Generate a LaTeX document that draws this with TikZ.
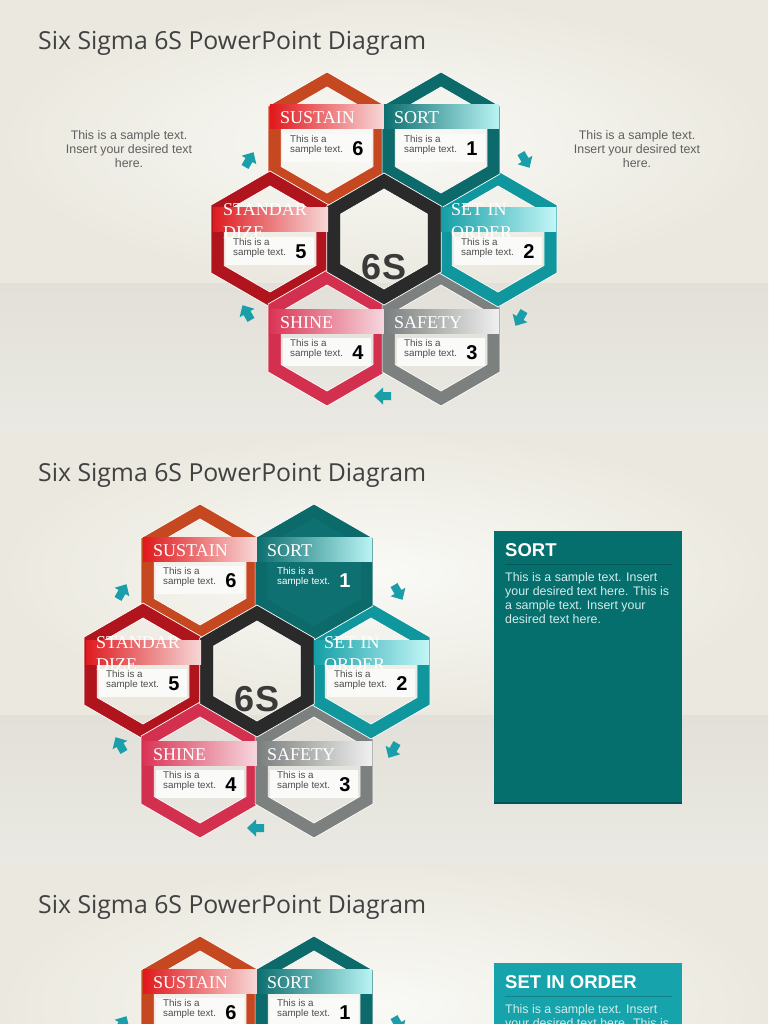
\documentclass[tikz,border=0pt]{standalone}
\usepackage{fontspec}
\setmainfont{Liberation Sans}
\newfontfamily\titlefont{Open Sans}
\newfontfamily\labserif{Liberation Serif}
\definecolor{bgin}{HTML}{F9F9F6}
\definecolor{bgout}{HTML}{EBE9DF}
\definecolor{band1}{HTML}{E2E0D8}
\definecolor{band2}{HTML}{EAE9E3}
\definecolor{ring0}{HTML}{2A2A2A}
\definecolor{ring1}{HTML}{0C6A6B}\definecolor{banA1}{HTML}{0D6F70}\definecolor{banB1}{HTML}{B9F4F4}\definecolor{fill1}{HTML}{0F7071}
\definecolor{ring2}{HTML}{10979E}\definecolor{banA2}{HTML}{139FA6}\definecolor{banB2}{HTML}{C4F6F7}\definecolor{fill2}{HTML}{16A6AD}
\definecolor{ring3}{HTML}{7C817F}\definecolor{banA3}{HTML}{7B7E7E}\definecolor{banB3}{HTML}{F0F0F0}\definecolor{fill3}{HTML}{888C8A}
\definecolor{ring4}{HTML}{D3304F}\definecolor{banA4}{HTML}{DB3556}\definecolor{banB4}{HTML}{F6D9DF}\definecolor{fill4}{HTML}{DA3D5B}
\definecolor{ring5}{HTML}{B0141C}\definecolor{banA5}{HTML}{DE1B20}\definecolor{banB5}{HTML}{F7D8D8}\definecolor{fill5}{HTML}{BD2128}
\definecolor{ring6}{HTML}{C64821}\definecolor{banA6}{HTML}{E1181C}\definecolor{banB6}{HTML}{F8DADA}\definecolor{fill6}{HTML}{CF5530}
\definecolor{boxw}{HTML}{FAFAF9}
\definecolor{txtgray}{HTML}{4D4D4D}
\definecolor{sidegray}{HTML}{5F5F5F}
\definecolor{titlegray}{HTML}{414141}
\definecolor{arrowc}{HTML}{1A9FAA}
\definecolor{sixgray}{HTML}{3A3A3A}
\definecolor{panelA}{HTML}{056F6E}
\definecolor{panelB}{HTML}{16A3AB}
\definecolor{pbodyc}{HTML}{D5ECEA}

\tikzset{
  lab/.style={font=\labserif\fontsize{18}{22}\selectfont, text=white, inner sep=0},
  smalltxt/.style={font=\fontsize{9.8}{10.5}\selectfont, align=left, inner sep=0},
  numtxt/.style={font=\bfseries\fontsize{20}{20}\selectfont, inner sep=0},
  sixtxt/.style={font=\bfseries\fontsize{36}{36}\selectfont, text=sixgray, inner sep=0},
  titlestyle/.style={font=\titlefont\fontsize{24.8}{28}\selectfont, text=titlegray, inner sep=0},
  sidetxt/.style={font=\fontsize{12.4}{14}\selectfont, text=sidegray, align=center, inner sep=0},
  ptitle/.style={font=\bfseries\fontsize{18.5}{20}\selectfont, text=white, inner sep=0},
  pbody/.style={font=\fontsize{12.4}{14.2}\selectfont, text=pbodyc, align=left, inner sep=0},
}

\newcommand\hexshape[3]{([shift={(#1,#2)}]90:#3) -- ([shift={(#1,#2)}]30:#3) -- ([shift={(#1,#2)}]-30:#3) -- ([shift={(#1,#2)}]-90:#3) -- ([shift={(#1,#2)}]-150:#3) -- ([shift={(#1,#2)}]150:#3) -- cycle}

\newcommand\hexring[3]{%
 \ifnum#1=\hl
   \fill[ring#1] \hexshape{#2}{#3}{68};
   \fill[fill#1] \hexshape{#2}{#3}{54};
   \draw[white, line width=0.7] \hexshape{#2}{#3}{68};
 \else
   \fill[ring#1, even odd rule] \hexshape{#2}{#3}{68} \hexshape{#2}{#3}{53};
   \draw[white, line width=0.7] \hexshape{#2}{#3}{68} \hexshape{#2}{#3}{53};
 \fi}

\newcommand\hexlabel[7]{% prefix idx cx cy dy label labeloff
 \shade[left color=banA#2, right color=banB#2] ({#3-57},{#4-35+#5}) rectangle ({#3+58},{#4-11+#5});
 \node[lab, anchor=base west] (#1-l#2) at ({#3-47},{#4#7+#5}) {#6};
 \ifnum#2=\hl \def\tc{white}\def\nc{white}\else
   \fill[boxw] ({#3-44},{#4-6+#5}) rectangle ({#3+44},{#4+22+#5});
   \def\tc{txtgray}\def\nc{black}\fi
 \node[smalltxt, anchor=west, text=\tc] (#1-t#2) at ({#3-37},{#4+5+#5}) {This is a\\sample text.};
 \node[numtxt, text=\nc] (#1-n#2) at ({#3+31},{#4+9+#5}) {#2};
}

\newcommand\tarrow[3]{\fill[arrowc, shift={(#1,#2)}, rotate=#3] (9,0) -- (0,8.5) -- (0,4) -- (-8,4) -- (-8,-4) -- (0,-4) -- (0,-8.5) -- cycle;}

\newcommand\diagram[4]{% prefix hl dx y0
 \def\hl{#2}
 \begin{scope}[shift={(#3,#4)}]
  \hexring{6}{327}{140}
  \hexring{5}{270}{239}
  \hexring{4}{327}{338}
  \hexring{3}{441}{338}
  \hexring{2}{498}{239}
  \hexring{1}{441}{140}
  \fill[ring0, even odd rule] \hexshape{384}{239}{66} \hexshape{384}{239}{50};
  \draw[white, line width=0.7] \hexshape{384}{239}{66} \hexshape{384}{239}{50};
  \hexlabel{#1}{6}{327}{140}{0}{SUSTAIN}{-16}
  \hexlabel{#1}{1}{441}{140}{0}{SORT}{-16}
  \hexlabel{#1}{5}{270}{239}{4}{\begin{tabular}[t]{@{}l@{}}STANDAR\\DIZE\end{tabular}}{-27}
  \hexlabel{#1}{2}{498}{239}{4}{\begin{tabular}[t]{@{}l@{}}SET IN\\ORDER\end{tabular}}{-27}
  \hexlabel{#1}{4}{327}{338}{6}{SHINE}{-16}
  \hexlabel{#1}{3}{441}{338}{6}{SAFETY}{-16}
  \node[sixtxt] (#1-six) at (384,267) {6S};
  \tarrow{249}{160}{60}
  \tarrow{525}{160}{-60}
  \tarrow{520}{318}{-120}
  \tarrow{383}{396}{180}
  \tarrow{247}{313}{120}
 \end{scope}}

\newcommand\slidebg[2]{% prefix y0
 \begin{scope}[shift={(0,#2)}]
  \shade[inner color=bgin, outer color=bgout] (0,0) rectangle (768,283);
  \shade[top color=band1, bottom color=band2] (0,283) rectangle (768,432);
  \node[titlestyle, anchor=west] (#1-title) at (38,43) {Six Sigma 6S PowerPoint Diagram};
 \end{scope}}

\newcommand\infopanel[4]{% prefix y0 color title
 \begin{scope}[shift={(0,#2)}]
  \fill[#3] (494,99) rectangle (682,371);
  \draw[#3!75!black, line width=1.2] (494,371) -- (682,371);
  \node[ptitle, anchor=west] (#1-ptitle) at (505,118) {#4};
  \draw[#3!80!black, line width=1] (505,132) -- (672,132);
  \node[pbody, anchor=north west] (#1-pbody) at (505,140) {This is a sample text. Insert\\your desired text here. This is\\a sample text. Insert your\\desired text here.};
 \end{scope}}

\begin{document}
\begin{tikzpicture}[x=1pt,y=-1pt]
\useasboundingbox (0,0) rectangle (768,1024);
\clip (0,0) rectangle (768,1024);
% slide 1
\slidebg{a}{0}
\diagram{a}{0}{0}{0}
\node[sidetxt] (a-left) at (129,149) {This is a sample text.\\Insert your desired text\\here.};
\node[sidetxt] (a-right) at (637,149) {This is a sample text.\\Insert your desired text\\here.};
% slide 2
\slidebg{b}{432}
\diagram{b}{1}{-127}{432}
\infopanel{b}{432}{panelA}{SORT}
% slide 3
\slidebg{c}{864}
\diagram{c}{2}{-127}{864}
\infopanel{c}{864}{panelB}{SET IN ORDER}
\end{tikzpicture}
\end{document}
